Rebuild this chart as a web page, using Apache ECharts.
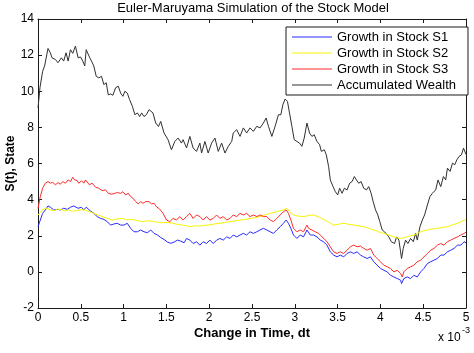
<!DOCTYPE html>
<html><head><meta charset="utf-8">
<script src="https://cdn.jsdelivr.net/npm/echarts@6/dist/echarts.min.js"></script>
<style>html,body{margin:0;padding:0;background:#fff}#c{width:474px;height:353px}</style>
</head><body><div id="c"></div>
<script>
const titleText = 'Euler-Maruyama Simulation of the Stock Model';
const xName = 'Change in Time, dt';
const yName = 'S(t), State';
const names = ['Growth in Stock S1', 'Growth in Stock S2', 'Growth in Stock S3', 'Accumulated Wealth'];
const xRange = [0, 5, 0.5];
const yRange = [-2, 14, 2];

// [t (x 10^-3), value]
const s1 = [[0,2.5],[0.027,2.87],[0.054,3.24],[0.086,3.43],[0.117,3.65],[0.144,3.58],[0.183,3.43],[0.223,3.46],[0.261,3.43],[0.300,3.52],[0.340,3.46],[0.379,3.58],[0.417,3.65],[0.437,3.7],[0.469,3.52],[0.508,3.58],[0.535,3.43],[0.563,3.58],[0.586,3.61],[0.613,3.37],[0.652,3.24],[0.692,3.06],[0.730,2.96],[0.769,2.91],[0.809,2.78],[0.848,2.59],[0.886,2.65],[0.926,2.69],[0.965,2.59],[1.004,2.59],[1.043,2.69],[1.082,2.41],[1.121,2.22],[1.161,2.22],[1.199,2.32],[1.238,2.22],[1.278,2.17],[1.317,2.32],[1.355,2.13],[1.395,2.04],[1.434,1.9],[1.472,1.8],[1.512,1.65],[1.551,1.58],[1.590,1.65],[1.629,1.76],[1.668,1.7],[1.707,1.61],[1.735,1.85],[1.774,1.76],[1.812,1.57],[1.852,1.67],[1.891,1.48],[1.930,1.67],[1.969,1.57],[2.008,1.76],[2.047,1.57],[2.087,1.76],[2.125,1.85],[2.164,1.76],[2.204,1.94],[2.243,1.85],[2.281,2.04],[2.321,1.94],[2.360,2.04],[2.399,2.13],[2.438,2.04],[2.477,2.22],[2.516,2.13],[2.556,2.22],[2.594,2.32],[2.633,2.41],[2.673,2.32],[2.712,2.22],[2.750,2.13],[2.790,2.32],[2.829,2.5],[2.867,2.69],[2.899,2.87],[2.926,2.69],[2.954,2.41],[2.985,2.04],[3.025,1.85],[3.063,2.04],[3.102,1.94],[3.142,2.32],[3.181,2.04],[3.219,2.04],[3.259,1.94],[3.298,1.76],[3.336,1.67],[3.376,1.48],[3.415,1.11],[3.454,0.93],[3.493,0.83],[3.532,0.93],[3.571,0.83],[3.611,1.02],[3.649,1.11],[3.688,1.02],[3.728,1.11],[3.767,0.93],[3.805,0.83],[3.845,0.74],[3.884,0.83],[3.923,0.56],[3.962,0.37],[4.001,0.19],[4.040,0.09],[4.080,0.0],[4.118,-0.19],[4.157,-0.28],[4.197,-0.37],[4.236,-0.46],[4.247,-0.65],[4.274,-0.37],[4.314,-0.28],[4.353,-0.37],[4.391,-0.19],[4.431,-0.28],[4.470,0.0],[4.509,0.19],[4.549,0.46],[4.587,0.56],[4.626,0.65],[4.666,0.74],[4.704,0.93],[4.743,0.93],[4.783,1.11],[4.822,1.2],[4.860,1.3],[4.900,1.48],[4.939,1.48],[4.978,1.67],[5.0,1.6]];

const s2 = [[0,3.15],[0.03,3.3],[0.047,3.43],[0.08,3.5],[0.106,3.52],[0.15,3.42],[0.191,3.4],[0.23,3.47],[0.273,3.45],[0.31,3.38],[0.359,3.43],[0.40,3.36],[0.449,3.38],[0.50,3.44],[0.554,3.42],[0.60,3.33],[0.652,3.24],[0.70,3.14],[0.750,3.06],[0.80,2.98],[0.867,2.87],[0.92,2.93],[0.985,2.96],[1.04,2.88],[1.102,2.9],[1.16,2.84],[1.219,2.78],[1.28,2.83],[1.336,2.8],[1.40,2.75],[1.454,2.72],[1.51,2.74],[1.571,2.69],[1.63,2.63],[1.688,2.59],[1.73,2.55],[1.774,2.5],[1.83,2.55],[1.891,2.54],[1.95,2.58],[2.008,2.6],[2.07,2.66],[2.125,2.69],[2.18,2.73],[2.243,2.78],[2.30,2.82],[2.360,2.87],[2.42,2.9],[2.477,2.96],[2.53,3.0],[2.594,3.06],[2.65,3.15],[2.712,3.24],[2.790,3.33],[2.867,3.43],[2.907,3.52],[2.946,3.3],[2.985,3.15],[3.025,3.1],[3.063,3.08],[3.102,3.06],[3.16,3.12],[3.219,3.15],[3.26,3.08],[3.298,3.0],[3.34,2.9],[3.376,2.8],[3.42,2.68],[3.454,2.59],[3.51,2.64],[3.571,2.69],[3.63,2.63],[3.688,2.59],[3.75,2.55],[3.805,2.5],[3.86,2.42],[3.923,2.32],[3.98,2.22],[4.040,2.13],[4.10,2.03],[4.157,1.94],[4.2,1.88],[4.236,1.85],[4.28,1.9],[4.314,1.94],[4.35,2.0],[4.391,2.04],[4.43,2.12],[4.470,2.22],[4.51,2.28],[4.549,2.32],[4.61,2.38],[4.666,2.41],[4.72,2.46],[4.783,2.5],[4.84,2.6],[4.900,2.69],[4.95,2.8],[5.0,2.9]];

const s3 = [[0,3.52],[0.027,4.17],[0.054,4.63],[0.086,4.91],[0.117,5.0],[0.144,4.91],[0.171,4.96],[0.203,4.82],[0.234,4.94],[0.261,4.85],[0.288,5.0],[0.320,4.91],[0.352,5.09],[0.379,5.0],[0.406,5.24],[0.429,5.09],[0.457,5.06],[0.476,4.91],[0.508,5.04],[0.535,4.91],[0.554,5.09],[0.574,5.0],[0.601,4.82],[0.633,4.91],[0.672,4.69],[0.710,4.63],[0.750,4.5],[0.789,4.54],[0.821,4.35],[0.859,4.3],[0.898,4.35],[0.926,4.39],[0.965,4.35],[0.992,4.44],[1.023,4.26],[1.055,4.35],[1.082,4.17],[1.109,4.08],[1.141,3.89],[1.172,3.76],[1.199,3.89],[1.226,3.8],[1.258,3.89],[1.297,3.89],[1.328,3.76],[1.355,3.8],[1.383,3.61],[1.42,3.48],[1.461,3.24],[1.501,2.87],[1.539,2.78],[1.578,2.96],[1.618,2.87],[1.656,3.06],[1.695,2.87],[1.735,3.06],[1.774,3.24],[1.812,2.96],[1.852,3.15],[1.891,3.06],[1.930,2.87],[1.969,3.06],[2.008,2.87],[2.047,2.96],[2.087,3.15],[2.125,2.96],[2.164,3.06],[2.204,2.87],[2.243,2.96],[2.281,3.15],[2.321,3.06],[2.360,3.24],[2.399,3.15],[2.438,3.24],[2.477,3.06],[2.516,3.15],[2.556,3.06],[2.594,3.15],[2.633,3.06],[2.673,3.06],[2.712,2.87],[2.750,2.78],[2.790,2.96],[2.829,3.15],[2.867,3.33],[2.899,3.43],[2.926,3.24],[2.954,2.87],[2.985,2.41],[3.025,2.22],[3.063,2.32],[3.102,2.22],[3.142,2.59],[3.161,2.41],[3.200,2.32],[3.239,2.22],[3.278,2.13],[3.318,1.94],[3.336,1.85],[3.376,1.67],[3.415,1.39],[3.454,1.11],[3.493,1.02],[3.532,1.11],[3.571,1.02],[3.611,1.2],[3.649,1.39],[3.688,1.48],[3.728,1.39],[3.767,1.43],[3.805,1.3],[3.845,1.2],[3.884,1.3],[3.923,0.93],[3.962,0.74],[4.001,0.56],[4.040,0.37],[4.080,0.28],[4.118,0.19],[4.157,0.0],[4.197,0.09],[4.236,-0.09],[4.255,-0.28],[4.274,0.0],[4.314,0.19],[4.353,0.28],[4.391,0.37],[4.431,0.56],[4.470,0.65],[4.509,0.83],[4.549,1.02],[4.587,1.2],[4.626,1.3],[4.666,1.48],[4.704,1.57],[4.743,1.48],[4.783,1.67],[4.822,1.76],[4.860,1.85],[4.900,1.94],[4.939,2.04],[4.978,2.13],[5.0,2.2]];

const wealth = [[0,9.08],[0.023,10.2],[0.054,11.1],[0.077,11.4],[0.117,12.37],[0.144,12.13],[0.164,11.85],[0.203,11.76],[0.234,11.58],[0.273,11.85],[0.300,11.67],[0.328,12.13],[0.352,11.67],[0.379,12.3],[0.406,12.1],[0.437,12.5],[0.469,11.85],[0.496,11.9],[0.523,11.67],[0.546,11.4],[0.563,12.3],[0.586,12.2],[0.605,11.85],[0.625,11.67],[0.652,11.4],[0.680,10.83],[0.710,10.74],[0.742,10.83],[0.769,10.37],[0.797,10.47],[0.821,9.8],[0.848,9.85],[0.875,9.78],[0.906,10.19],[0.938,10.28],[0.965,9.9],[0.992,9.72],[1.015,10.0],[1.043,9.9],[1.070,9.54],[1.102,9.17],[1.132,8.7],[1.161,8.8],[1.188,8.6],[1.211,8.8],[1.238,8.6],[1.266,8.7],[1.297,8.98],[1.320,9.07],[1.343,8.8],[1.375,8.24],[1.407,8.05],[1.434,8.33],[1.472,7.69],[1.519,7.32],[1.559,6.76],[1.598,7.22],[1.637,7.41],[1.676,7.13],[1.695,7.32],[1.735,6.86],[1.774,7.5],[1.812,6.86],[1.852,6.67],[1.891,7.13],[1.911,6.58],[1.950,7.22],[1.988,6.58],[2.028,7.13],[2.067,7.41],[2.106,6.67],[2.145,7.13],[2.184,6.58],[2.223,6.95],[2.263,7.22],[2.281,7.69],[2.321,7.87],[2.360,7.5],[2.399,7.97],[2.438,7.69],[2.477,7.97],[2.516,7.78],[2.556,8.06],[2.594,7.97],[2.633,8.24],[2.665,8.52],[2.692,8.06],[2.732,7.5],[2.770,8.06],[2.809,8.7],[2.837,8.7],[2.861,9.26],[2.887,9.57],[2.914,9.44],[2.938,8.8],[2.966,8.06],[2.993,7.32],[3.025,7.22],[3.055,7.13],[3.083,6.95],[3.110,7.41],[3.142,8.24],[3.172,7.69],[3.200,7.5],[3.227,7.59],[3.259,7.22],[3.290,7.04],[3.31,6.67],[3.345,6.76],[3.368,6.48],[3.395,5.83],[3.415,5.09],[3.447,4.72],[3.474,4.44],[3.501,4.26],[3.524,4.63],[3.552,4.35],[3.579,4.63],[3.611,4.54],[3.641,4.91],[3.669,5.0],[3.696,5.28],[3.720,5.09],[3.747,4.91],[3.775,5.0],[3.805,4.63],[3.837,4.54],[3.864,4.72],[3.892,4.35],[3.915,3.9],[3.943,3.43],[3.970,3.15],[3.993,2.78],[4.021,2.32],[4.048,2.22],[4.071,2.32],[4.098,1.94],[4.127,1.67],[4.150,1.76],[4.165,1.57],[4.189,1.94],[4.216,1.76],[4.236,1.11],[4.247,0.74],[4.267,1.3],[4.294,1.76],[4.321,1.57],[4.353,1.85],[4.385,1.67],[4.411,2.13],[4.431,1.76],[4.462,2.5],[4.490,2.87],[4.516,3.15],[4.549,3.7],[4.579,4.17],[4.607,4.35],[4.646,4.54],[4.673,5.09],[4.705,4.72],[4.736,5.28],[4.763,5.09],[4.783,5.74],[4.814,5.56],[4.842,6.02],[4.869,5.93],[4.892,6.2],[4.919,6.39],[4.947,6.48],[4.971,6.85],[4.989,6.95],[5.0,6.5]];

const colors = ['#2a2aff', '#f5f500', '#ff2a2a', '#303030'];
const FONT = '"Liberation Sans", Arial, sans-serif';

const chart = echarts.init(document.getElementById('c'), null, {renderer: 'canvas'});
const axisCommon = {
  type: 'value',
  axisLine: {show: true, onZero: false, lineStyle: {color: '#1a1a1a', width: 1}},
  axisTick: {show: true, inside: true, length: 4, lineStyle: {color: '#1a1a1a'}},
  splitLine: {show: false}
};
const option = {
  animation: false,
  backgroundColor: '#fff',
  grid: {left: 38, right: 8, top: 19, bottom: 45, containLabel: false, outerBoundsMode: 'none'},
  xAxis: [
    Object.assign({}, axisCommon, {
      min: xRange[0], max: xRange[1], interval: xRange[2], position: 'bottom',
      axisLabel: {color: '#000', fontSize: 12, fontFamily: FONT, margin: 4, showMinLabel: true, showMaxLabel: true},
      name: xName, nameLocation: 'middle', nameGap: 19, nameMoveOverlap: false,
      nameTextStyle: {color: '#000', fontSize: 13, fontWeight: 'bold', fontFamily: FONT}
    }),
    Object.assign({}, axisCommon, {
      min: xRange[0], max: xRange[1], interval: xRange[2], position: 'top',
      axisLabel: {show: false}
    })
  ],
  yAxis: [
    Object.assign({}, axisCommon, {
      min: yRange[0], max: yRange[1], interval: yRange[2], position: 'left',
      axisLabel: {color: '#000', fontSize: 12, fontFamily: FONT, margin: 4, showMinLabel: true, showMaxLabel: true},
      name: yName, nameLocation: 'middle', nameGap: 21, nameMoveOverlap: false,
      nameTextStyle: {color: '#000', fontSize: 12, fontWeight: 'bold', fontFamily: FONT}
    }),
    Object.assign({}, axisCommon, {
      min: yRange[0], max: yRange[1], interval: yRange[2], position: 'right',
      axisLabel: {show: false}
    })
  ],
  legend: {
    show: true,
    data: names.map((n, i) => ({name: n, icon: 'rect', itemStyle: {color: colors[i]}})),
    orient: 'vertical',
    left: 286, top: 27,
    itemWidth: 40, itemHeight: 1, itemGap: 2,
    padding: [3, 12, 3, 6],
    borderColor: '#1a1a1a', borderWidth: 1, borderRadius: 0,
    backgroundColor: '#fff',
    textStyle: {color: '#000', fontSize: 13, fontFamily: FONT, lineHeight: 14}
  },
  graphic: [
    {type: 'text', x: 253, y: 8, style: {text: titleText, font: '13px ' + FONT, fill: '#000', align: 'center', verticalAlign: 'middle'}},
    {type: 'text', x: 438, y: 338, style: {text: 'x 10', font: '12px ' + FONT, fill: '#000', align: 'left', verticalAlign: 'middle'}},
    {type: 'text', x: 462, y: 331, style: {text: '-3', font: '9px ' + FONT, fill: '#000', align: 'left', verticalAlign: 'middle'}}
  ],
  series: [s1, s2, s3, wealth].map((d, i) => ({
    name: names[i], type: 'line', data: d,
    xAxisIndex: 0, yAxisIndex: 0,
    symbol: 'none', showSymbol: false, smooth: false,
    lineStyle: {color: colors[i], width: 1},
    itemStyle: {color: colors[i]},
    z: 2 + (i === 3 ? 0 : 1)
  }))
};
chart.setOption(option);
</script>
</body></html>
